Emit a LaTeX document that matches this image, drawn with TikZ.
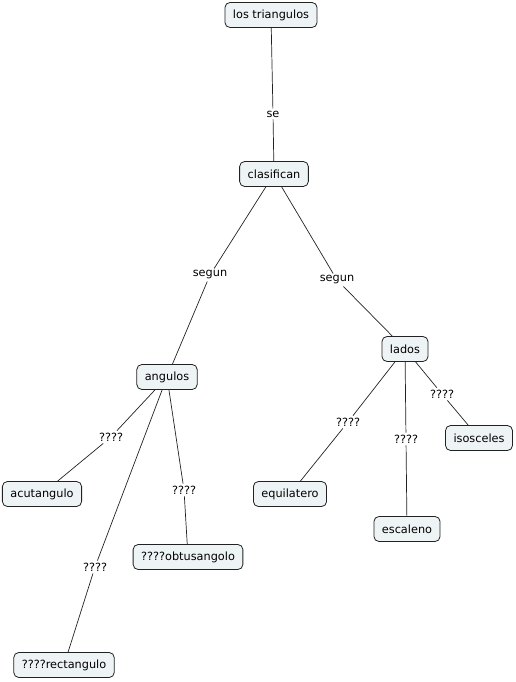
\documentclass[tikz,border=0pt]{standalone}
\usepackage{fontspec}
\setmainfont{DejaVu Sans}
\definecolor{nodefill}{HTML}{EEF3F5}
\definecolor{edge}{HTML}{222222}
\begin{document}
\begin{tikzpicture}[x=1pt,y=-1pt,
  concept/.style={draw=edge,fill=nodefill,rounded corners=5pt,line width=0.8pt,
    font=\fontsize{11.3}{13}\selectfont,minimum height=25pt,inner xsep=8pt},
  lbl/.style={font=\fontsize{11.3}{13}\selectfont,inner sep=2pt,fill=white},
  conn/.style={draw=edge,line width=0.7pt}]
\useasboundingbox (0,0) rectangle (516,682);
\node[concept] (tri) at (271,15) {los triangulos};
\node[concept] (cla) at (274,174) {clasifican};
\node[concept] (ang) at (167,377) {angulos};
\node[concept] (lad) at (405,349) {lados};
\node[concept] (acu) at (42,494) {acutangulo};
\node[concept] (obt) at (188,557) {????obtusangolo};
\node[concept] (rec) at (64,665) {????rectangulo};
\node[concept] (equ) at (290,494) {equilatero};
\node[concept] (esc) at (407,529) {escaleno};
\node[concept] (iso) at (479,438) {isosceles};

\node[lbl] (l1) at (273,114) {se};
\node[lbl] (l2) at (210,275) {segun};
\node[lbl] (l3) at (337,280) {segun};
\node[lbl] (l4) at (111,437) {????};
\node[lbl] (l5) at (184,490) {????};
\node[lbl] (l6) at (95,567) {????};
\node[lbl] (l7) at (348,422) {????};
\node[lbl] (l8) at (406,439) {????};
\node[lbl] (l9) at (442,394) {????};

\draw[conn] (tri) -- (l1) -- (cla);
\draw[conn] (cla) -- (l2) -- (ang);
\draw[conn] (cla) -- (l3) -- (lad);
\draw[conn] (ang) -- (l4) -- (acu);
\draw[conn] (ang) -- (l5) -- (obt);
\draw[conn] (ang) -- (l6) -- (rec);
\draw[conn] (lad) -- (l7) -- (equ);
\draw[conn] (lad) -- (l8) -- (esc);
\draw[conn] (lad) -- (l9) -- (iso);
\end{tikzpicture}
\end{document}
